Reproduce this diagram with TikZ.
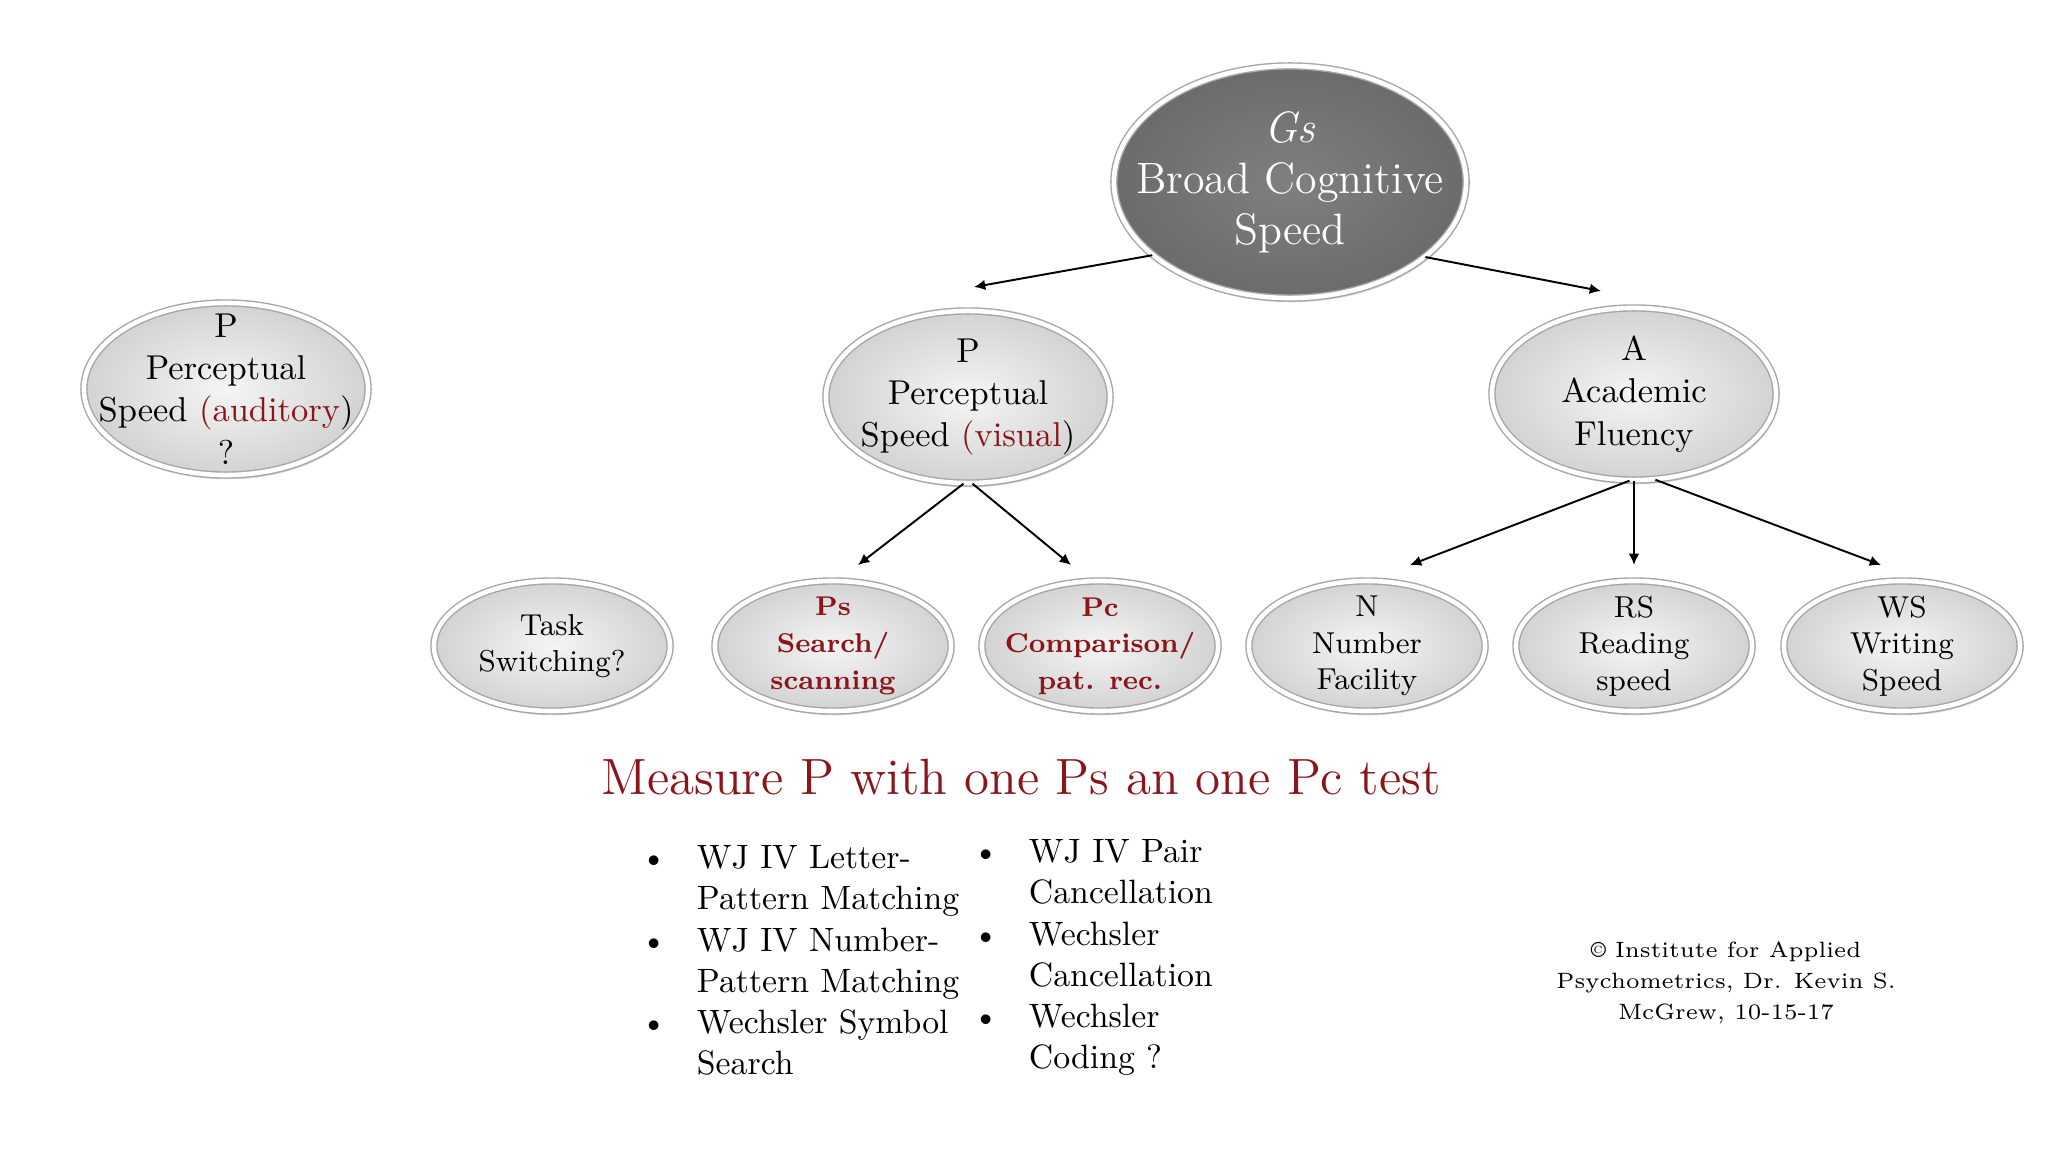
\documentclass[tikz,border=0pt]{standalone}
\usetikzlibrary{shapes.geometric,shadows,arrows.meta}
\definecolor{darkred}{RGB}{139,21,26}
\newcommand{\blt}{\makebox[16pt][l]{\textbullet}}
\newcommand{\ind}{\hspace*{16pt}}
\begin{document}
\begin{tikzpicture}[x=0.01cm,y=0.01cm,
	oval/.style={ellipse,draw=gray!70,double=white,double distance=1.3pt,inner color=gray!8,outer color=gray!35,drop shadow={opacity=0.3,shadow xshift=0.5pt,shadow yshift=-1.2pt},align=center,inner sep=-15pt},
	bigoval/.style={oval,minimum width=2.84cm,minimum height=1.72cm,font=\fontsize{9.8}{12}\selectfont},
	smalloval/.style={oval,minimum width=2.36cm,minimum height=1.30cm,font=\fontsize{8.6}{10.4}\selectfont},
	redoval/.style={smalloval,text=darkred,font=\fontsize{7.7}{10.4}\selectfont\bfseries},
	link/.style={-{Latex[length=3.2pt,width=3pt]},line width=0.55pt}]
	\fill[white] (0,0) rectangle (2048,-1152);
	\node[oval,inner color=black!50,outer color=black!58,minimum width=3.52cm,minimum height=2.32cm,text=white,font=\fontsize{12.5}{14.5}\selectfont] (gs) at (1290,-182) {\textit{Gs}\\Broad Cognitive\\Speed};
	\node[bigoval] (pa) at (226,-389) {P\\Perceptual\\Speed \textcolor{darkred}{(auditory})\\?};
	\node[bigoval] (pv) at (968,-397) {P\\Perceptual\\Speed \textcolor{darkred}{(visual})};
	\node[bigoval] (af) at (1634,-394) {A\\Academic\\Fluency};
	\node[smalloval] (task) at (552,-646) {Task\\Switching?};
	\node[redoval] (ps) at (833,-646) {Ps\\Search/\\scanning};
	\node[redoval] (pc) at (1100,-646) {Pc\\Comparison/\\pat. rec.};
	\node[smalloval] (nf) at (1367,-646) {N\\Number\\Facility};
	\node[smalloval] (rs) at (1634,-646) {RS\\Reading\\speed};
	\node[smalloval] (ws) at (1902,-646) {WS\\Writing\\Speed};
	\coordinate (pv-in) at (974,-287);
	\coordinate (af-in) at (1601,-291);
	\coordinate (ps-in) at (858,-565);
	\coordinate (pc-in) at (1071,-565);
	\coordinate (nf-in) at (1410,-565);
	\coordinate (rs-in) at (1634,-565);
	\coordinate (ws-in) at (1881,-565);
	\draw[link] (gs.208) -- (pv-in);
	\draw[link] (gs.-29) -- (af-in);
	\draw[link] (pv.-93) -- (ps-in);
	\draw[link] (pv.-87) -- (pc-in);
	\draw[link] (af.-93) -- (nf-in);
	\draw[link] (af.south) -- (rs-in);
	\draw[link] (af.-76) -- (ws-in);
	\node[font=\fontsize{14.5}{17}\selectfont,text=darkred] (title) at (1021,-777) {Measure P with one Ps an one Pc test};
	\node[anchor=north west,align=left,inner sep=0pt,font=\fontsize{9.6}{11.7}\selectfont] (leftlist) at (640,-845) {\blt WJ IV Letter-\\\ind Pattern Matching\\\blt WJ IV Number-\\\ind Pattern Matching\\\blt Wechsler Symbol\\\ind Search};
	\node[anchor=north west,align=left,inner sep=0pt,font=\fontsize{9.6}{11.7}\selectfont] (rightlist) at (972,-839) {\blt WJ IV Pair\\\ind Cancellation\\\blt Wechsler\\\ind Cancellation\\\blt Wechsler\\\ind Coding ?};
	\node[align=center,font=\fontsize{6.3}{8.8}\selectfont] (credit) at (1726,-983) {\textcopyright{} Institute for Applied\\Psychometrics, Dr. Kevin S.\\McGrew, 10-15-17};
\end{tikzpicture}
\end{document}
